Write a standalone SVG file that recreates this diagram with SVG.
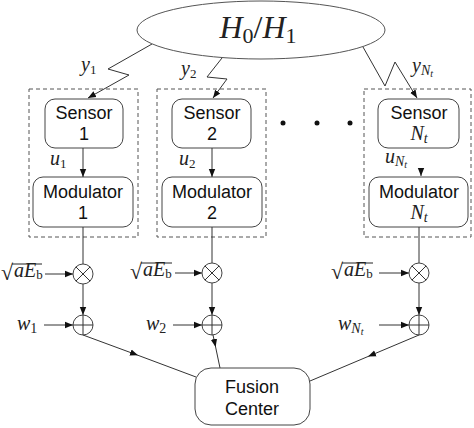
<svg xmlns="http://www.w3.org/2000/svg" width="474" height="428" viewBox="0 0 474 428">
<style>
.bg{fill:#fff}
.dash{fill:none;stroke:#555;stroke-width:1;stroke-dasharray:4 3}
.blk{fill:#fff;stroke:#444;stroke-width:1}
.ln{fill:none;stroke:#333;stroke-width:1}
.lbl{font-family:"Liberation Sans",Arial,sans-serif;font-size:18px;fill:#111;text-anchor:middle}
.m{font-family:"Liberation Serif","Times New Roman",serif;font-style:italic;font-size:20px;fill:#222}
.up{font-style:normal}
.op{fill:#fff;stroke:#444;stroke-width:1}
.rad{font-family:"Liberation Serif","Times New Roman",serif;font-size:22px;fill:#222}
</style>
<defs>
<marker id="ah" viewBox="0 0 10 10" refX="10" refY="5" markerWidth="8" markerHeight="8" markerUnits="userSpaceOnUse" orient="auto">
<path d="M0,1 L10,5 L0,9 z" fill="#111"/>
</marker>
</defs>
<rect class="bg" x="0" y="0" width="474" height="428"/>

<g id="hypothesis">
<ellipse cx="261" cy="30" rx="124" ry="29" fill="#fff" stroke="#555" stroke-width="1"/>
<text x="258" y="38" text-anchor="middle" font-family="Liberation Serif,serif" font-size="32" font-style="italic" fill="#222">H<tspan font-style="normal" font-size="22" dy="5">0</tspan><tspan font-style="normal" dy="-5">/</tspan>H<tspan font-style="normal" font-size="22" dy="5">1</tspan></text>
</g>

<g id="cluster1"><rect class="dash" x="29" y="89" width="109" height="148"/></g>
<g id="cluster2"><rect class="dash" x="157" y="89" width="109" height="148"/></g>
<g id="cluster3"><rect class="dash" x="364" y="89" width="107" height="148"/></g>

<g id="sensor1">
<rect class="blk" x="45" y="99" width="78" height="49" rx="10"/>
<text class="lbl" x="84" y="119">Sensor</text>
<text class="lbl" x="84" y="140">1</text>
</g>
<g id="sensor2">
<rect class="blk" x="172" y="99" width="79" height="49" rx="10"/>
<text class="lbl" x="212" y="119">Sensor</text>
<text class="lbl" x="212" y="140">2</text>
</g>
<g id="sensor3">
<rect class="blk" x="378" y="99" width="81" height="49" rx="10"/>
<text class="lbl" x="419" y="119">Sensor</text>
<text class="m" x="419" y="140" text-anchor="middle" font-size="21">N<tspan font-size="14" dy="3">t</tspan></text>
</g>

<g id="modulator1">
<rect class="blk" x="33" y="177" width="100" height="50" rx="10"/>
<text class="lbl" x="83" y="198">Modulator</text>
<text class="lbl" x="83" y="219">1</text>
</g>
<g id="modulator2">
<rect class="blk" x="162" y="177" width="100" height="50" rx="10"/>
<text class="lbl" x="212" y="198">Modulator</text>
<text class="lbl" x="212" y="219">2</text>
</g>
<g id="modulator3">
<rect class="blk" x="369" y="177" width="99" height="50" rx="10"/>
<text class="lbl" x="419" y="198">Modulator</text>
<text class="m" x="419" y="219" text-anchor="middle" font-size="21">N<tspan font-size="14" dy="3">t</tspan></text>
</g>

<g id="dots" fill="#111">
<circle cx="283" cy="123" r="2.5"/>
<circle cx="317" cy="123" r="2.5"/>
<circle cx="350" cy="123" r="2.5"/>
</g>

<g id="connectors">
<path class="ln" d="M152,44 L108,69 L129,75 L88,98" marker-end="url(#ah)"/>
<path class="ln" d="M222,58 L207,77 L227,79 L213,98" marker-end="url(#ah)"/>
<path class="ln" d="M363,47 L385,86 L395,62 L417,98" marker-end="url(#ah)"/>

<line class="ln" x1="83" y1="148" x2="83" y2="177" marker-end="url(#ah)"/>
<line class="ln" x1="212" y1="148" x2="212" y2="177" marker-end="url(#ah)"/>
<line class="ln" x1="421" y1="168" x2="421" y2="176" marker-end="url(#ah)"/>

<line class="ln" x1="83" y1="227" x2="83" y2="264"/>
<line class="ln" x1="212" y1="227" x2="212" y2="263"/>
<line class="ln" x1="419" y1="227" x2="419" y2="263"/>

<line class="ln" x1="45" y1="274" x2="73" y2="274" marker-end="url(#ah)"/>
<line class="ln" x1="175" y1="273" x2="202" y2="273" marker-end="url(#ah)"/>
<line class="ln" x1="379" y1="273" x2="409" y2="273" marker-end="url(#ah)"/>

<line class="ln" x1="83" y1="284" x2="83" y2="315" marker-end="url(#ah)"/>
<line class="ln" x1="212" y1="283" x2="212" y2="315" marker-end="url(#ah)"/>
<line class="ln" x1="419" y1="283" x2="419" y2="315" marker-end="url(#ah)"/>

<line class="ln" x1="44" y1="325" x2="73" y2="325" marker-end="url(#ah)"/>
<line class="ln" x1="173" y1="325" x2="202" y2="325" marker-end="url(#ah)"/>
<line class="ln" x1="379" y1="325" x2="409" y2="325" marker-end="url(#ah)"/>

<path class="ln" d="M83,335 L138,355.3 L196,377" marker-mid="url(#ah)"/>
<path class="ln" d="M213,335 L215.6,347 L220,368" marker-mid="url(#ah)"/>
<path class="ln" d="M419,335 L368,356.5 L310,381" marker-mid="url(#ah)"/>
</g>

<g id="labels">
<text class="m" x="81" y="71">y<tspan class="up" font-size="13" dy="3">1</tspan></text>
<text class="m" x="181" y="75">y<tspan class="up" font-size="13" dy="3">2</tspan></text>
<text class="m" x="412" y="72">y<tspan font-size="14" dy="3">N</tspan><tspan font-size="10" dy="2">t</tspan></text>
<text class="m" x="50" y="165">u<tspan class="up" font-size="13" dy="3">1</tspan></text>
<text class="m" x="179" y="165">u<tspan class="up" font-size="13" dy="3">2</tspan></text>
<text class="m" x="385" y="163">u<tspan font-size="14" dy="3">N</tspan><tspan font-size="10" dy="2">t</tspan></text>

<g id="sqrt1">
<text class="rad" x="1" y="280">√</text>
<line x1="12" y1="264" x2="42" y2="264" stroke="#222" stroke-width="1"/>
<text class="m" x="14" y="277" font-size="19">aE<tspan class="up" font-size="13" dy="2">b</tspan></text>
</g>
<g id="sqrt2">
<text class="rad" x="130" y="279">√</text>
<line x1="141" y1="263" x2="172" y2="263" stroke="#222" stroke-width="1"/>
<text class="m" x="143" y="276" font-size="19">aE<tspan class="up" font-size="13" dy="2">b</tspan></text>
</g>
<g id="sqrt3">
<text class="rad" x="331" y="279">√</text>
<line x1="342" y1="263" x2="373" y2="263" stroke="#222" stroke-width="1"/>
<text class="m" x="344" y="276" font-size="19">aE<tspan class="up" font-size="13" dy="2">b</tspan></text>
</g>

<text class="m" x="17" y="330" font-size="22">w<tspan class="up" font-size="14" dy="3">1</tspan></text>
<text class="m" x="146" y="330" font-size="22">w<tspan class="up" font-size="14" dy="3">2</tspan></text>
<text class="m" x="338" y="330" font-size="22">w<tspan font-size="14" dy="3">N</tspan><tspan font-size="10" dy="2">t</tspan></text>
</g>

<g id="mult1"><circle class="op" cx="83" cy="274" r="10"/><path class="ln" d="M75.9,266.9 L90.1,281.1 M90.1,266.9 L75.9,281.1"/></g>
<g id="mult2"><circle class="op" cx="212" cy="273" r="10"/><path class="ln" d="M204.9,265.9 L219.1,280.1 M219.1,265.9 L204.9,280.1"/></g>
<g id="mult3"><circle class="op" cx="419" cy="273" r="10"/><path class="ln" d="M411.9,265.9 L426.1,280.1 M426.1,265.9 L411.9,280.1"/></g>

<g id="add1"><circle class="op" cx="83" cy="325" r="10"/><path class="ln" d="M73,325 L93,325 M83,315 L83,335"/></g>
<g id="add2"><circle class="op" cx="212" cy="325" r="10"/><path class="ln" d="M202,325 L222,325 M212,315 L212,335"/></g>
<g id="add3"><circle class="op" cx="419" cy="325" r="10"/><path class="ln" d="M409,325 L429,325 M419,315 L419,335"/></g>

<g id="fusion">
<rect class="blk" x="195" y="368" width="115" height="57" rx="16"/>
<text class="lbl" x="252" y="393" font-size="17">Fusion</text>
<text class="lbl" x="252" y="415" font-size="17">Center</text>
</g>
</svg>
